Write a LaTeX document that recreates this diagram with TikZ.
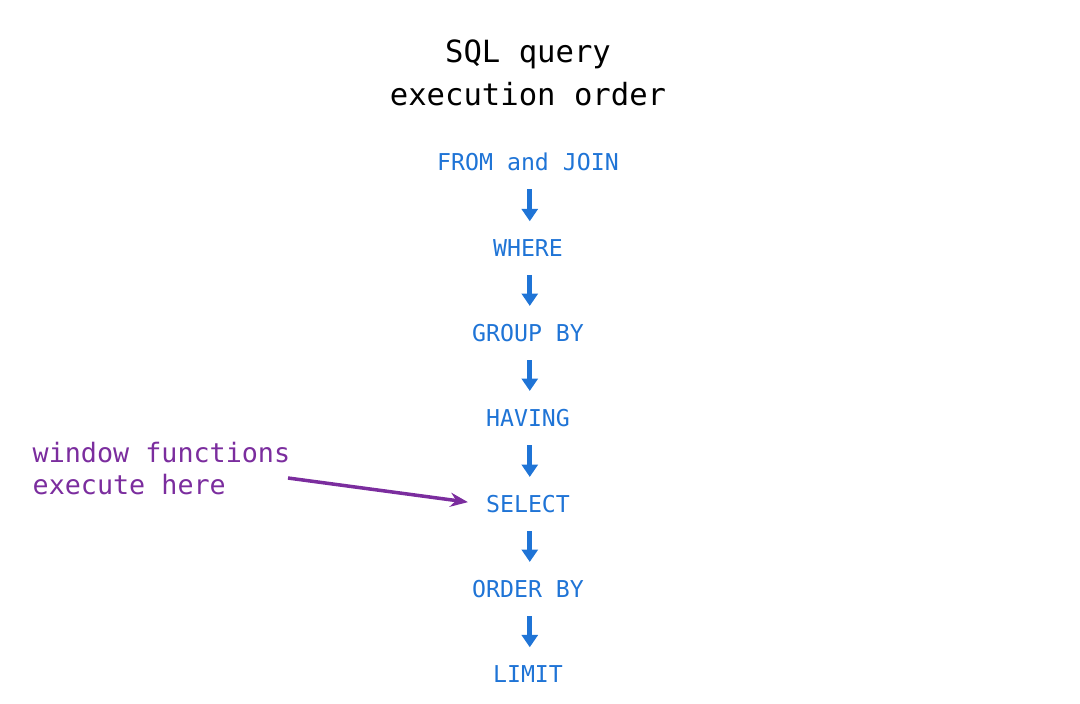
\documentclass[tikz,border=0pt]{standalone}
\usepackage{fontspec}
\setmonofont{DejaVu Sans Mono}
\usetikzlibrary{arrows.meta}
\definecolor{qblue}{HTML}{1F74D6}
\definecolor{qpurp}{HTML}{7B2D9E}
\tikzset{
  stage/.style={text=qblue,font=\ttfamily\fontsize{6.6pt}{8pt}\selectfont,inner sep=1pt},
  flow/.style={draw=qblue,line width=1.5pt,-{Triangle[width=4.5pt,length=3.5pt]},shorten <=4pt,shorten >=4pt},
}
\begin{document}
\begin{tikzpicture}[x=0.01cm,y=-0.01cm]
\useasboundingbox (0,0) rectangle (1080,703);
\node[align=center,font=\ttfamily\fontsize{8.7pt}{12.3pt}\selectfont] (title) at (528,73) {SQL query\\execution order};
\node[stage] (from) at (528,162) {FROM and JOIN};
\node[stage] (where) at (528,248) {WHERE};
\node[stage] (group) at (528,333) {GROUP BY};
\node[stage] (having) at (528,418) {HAVING};
\node[stage] (select) at (528,504) {SELECT};
\node[stage] (order) at (528,589) {ORDER BY};
\node[stage] (limit) at (528,674) {LIMIT};
\foreach \a/\b in {from/where,where/group,group/having,having/select,select/order,order/limit}
  \draw[flow] ([xshift=0.5pt]\a.south) -- ([xshift=0.5pt]\b.north);
\node[text=qpurp,align=left,anchor=west,font=\ttfamily\fontsize{7.6pt}{9.1pt}\selectfont,inner sep=0pt] (note) at (32,469) {window functions\\execute here};
\coordinate (ns) at (288,478);
\draw[qpurp,line width=1pt,-{Stealth[length=5pt,width=4pt]},shorten >=4pt] (ns) -- (select.west);
\end{tikzpicture}
\end{document}
